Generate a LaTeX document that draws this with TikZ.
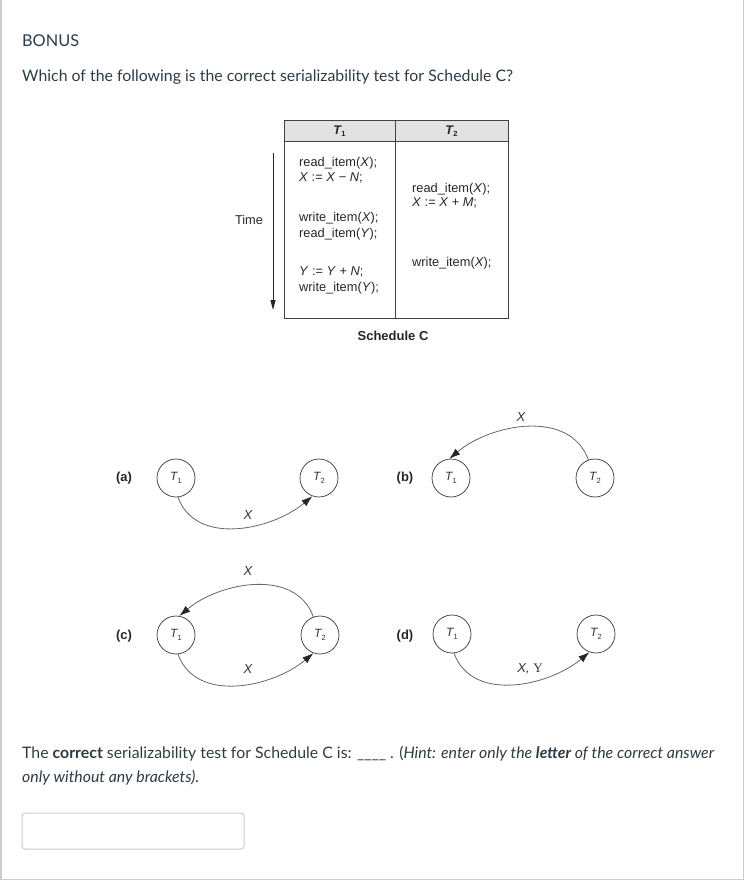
\documentclass[tikz,border=0pt]{standalone}
\usepackage{fontspec}
\setmainfont{Lato}
\newfontfamily\helv{Liberation Sans}
\newfontfamily\serifY{Liberation Serif}
\usepackage{tikz}
\usetikzlibrary{positioning}
\usetikzlibrary{arrows.meta}
\definecolor{gristexte}{HTML}{2D3B45}
\definecolor{grisbord}{HTML}{C7CDD1}
\definecolor{grisentete}{HTML}{E2E2E2}
\newcommand{\tnoeud}[1]{{\itshape T}\kern0.3pt\raisebox{-2.5pt}{\fontsize{7.5}{8}\selectfont #1}}
\newcommand{\vx}[1]{\textit{#1}}

\begin{document}
\begin{tikzpicture}[x=1pt,y=1pt]
% définition des paramètres
\tikzstyle textepage=[anchor=base west,inner sep=0pt,color=gristexte,font=\fontsize{15.85}{19}\selectfont]
\tikzstyle textetab=[anchor=base west,inner sep=0pt,color=black!85,font=\helv\fontsize{12.8}{15}\selectfont]
\tikzstyle traittab=[color=black!75,line width=0.9pt]
\tikzstyle cerclegraphe=[draw=black!60,line width=0.7pt,circle,minimum size=38pt,inner sep=0pt,color=black!80,font=\helv\fontsize{12}{14}\selectfont]
\tikzstyle arcgraphe=[draw=black!60,line width=0.8pt,-{Latex[length=11pt,width=7.5pt,black!85]}]
\tikzstyle lettregraphe=[color=black!85,font=\helv\bfseries\fontsize{13}{15}\selectfont]
\tikzstyle etiqgraphe=[color=black!80,font=\helv\itshape\fontsize{13}{15}\selectfont]
% le cadre de la page
\useasboundingbox (0,0) rectangle (744,-881);
\draw[grisbord,line width=1.5pt] (1,0) -- (1,-879.5) -- (743.5,-879.5) -- (743.5,0);
% les textes du haut
\node[textepage,font=\fontsize{16.3}{19}\selectfont] (titre) at (22,-46) {BONUS};
\node[textepage] (question) at (22,-81) {Which of the following is the correct serializability test for Schedule C?};
% le tableau
\draw[traittab,fill=grisentete] (284,-120) rectangle (508,-141);
\draw[traittab] (284,-141) rectangle (508,-318);
\draw[traittab] (395,-120) -- (395,-318);
\node[textetab,anchor=center,font=\helv\bfseries\fontsize{12.5}{15}\selectfont] (ent1) at (339.5,-131) {\tnoeud{1}};
\node[textetab,anchor=center,font=\helv\bfseries\fontsize{12.5}{15}\selectfont] (ent2) at (451.5,-131) {\tnoeud{2}};
\draw[black!85,line width=1pt,-{Triangle[length=10pt,width=5pt]}] (273,-153) -- (273,-310);
\node[textetab,anchor=center] (temps) at (249,-220) {Time};
% colonne T1
\node[textetab] (l1) at (299,-166) {read\_item(\vx{X});};
\node[textetab] (l2) at (299,-181) {\vx{X} := \vx{X} − \vx{N};};
\node[textetab] (l3) at (299,-221.5) {write\_item(\vx{X});};
\node[textetab] (l4) at (299,-237) {read\_item(\vx{Y});};
\node[textetab] (l5) at (299,-275.5) {\vx{Y} := \vx{Y} + \vx{N};};
\node[textetab] (l6) at (299,-291) {write\_item(\vx{Y});};
% colonne T2
\node[textetab] (m1) at (412,-192) {read\_item(\vx{X});};
\node[textetab] (m2) at (412,-206.5) {\vx{X} := \vx{X} + \vx{M};};
\node[textetab] (m3) at (412,-266) {write\_item(\vx{X});};
\node[textetab,anchor=base,font=\helv\bfseries\fontsize{13}{15}\selectfont] (sched) at (393,-340) {Schedule C};
% graphe (a)
\node[lettregraphe] (la) at (124,-478) {(a)};
\node[cerclegraphe] (a1) at (176,-478) {\tnoeud{1}};
\node[cerclegraphe] (a2) at (319,-478) {\tnoeud{2}};
\draw[arcgraphe] (a1.-84) to[out=-70,in=-140] (a2.-110);
\node[etiqgraphe] (xa) at (248,-515) {X};
% graphe (b)
\node[lettregraphe] (lb) at (405,-478) {(b)};
\node[cerclegraphe] (b1) at (451,-478) {\tnoeud{1}};
\node[cerclegraphe] (b2) at (595,-478) {\tnoeud{2}};
\draw[arcgraphe] (b2.110) to[out=110,in=40] (b1.95);
\node[etiqgraphe] (xb) at (521,-417) {X};
% graphe (c)
\node[lettregraphe] (lc) at (124,-636) {(c)};
\node[cerclegraphe] (c1) at (176,-635) {\tnoeud{1}};
\node[cerclegraphe] (c2) at (320,-635) {\tnoeud{2}};
\draw[arcgraphe] (c2.110) to[out=110,in=40] (c1.80);
\draw[arcgraphe] (c1.-84) to[out=-70,in=-140] (c2.-110);
\node[etiqgraphe] (xc1) at (248,-571) {X};
\node[etiqgraphe] (xc2) at (248,-669) {X};
% graphe (d)
\node[lettregraphe] (ld) at (405,-636) {(d)};
\node[cerclegraphe] (d1) at (452,-634) {\tnoeud{1}};
\node[cerclegraphe] (d2) at (596,-634) {\tnoeud{2}};
\draw[arcgraphe] (d1.-84) to[out=-70,in=-140] (d2.-110);
\node[etiqgraphe] (xd) at (530,-669) {X, {\upshape\serifY Y}};
% les textes du bas
\node[textepage] (reponse1) at (22,-758) {The \textbf{correct} serializability test for Schedule C is: \_\_\_\_ . (\textit{Hint: enter only the \textbf{letter} of the correct answer}};
\node[textepage] (reponse2) at (22,-782) {\textit{only without any brackets).}};
\draw[grisbord,line width=1pt,rounded corners=3pt] (22,-813) rectangle (244,-849);
\end{tikzpicture}
\end{document}
